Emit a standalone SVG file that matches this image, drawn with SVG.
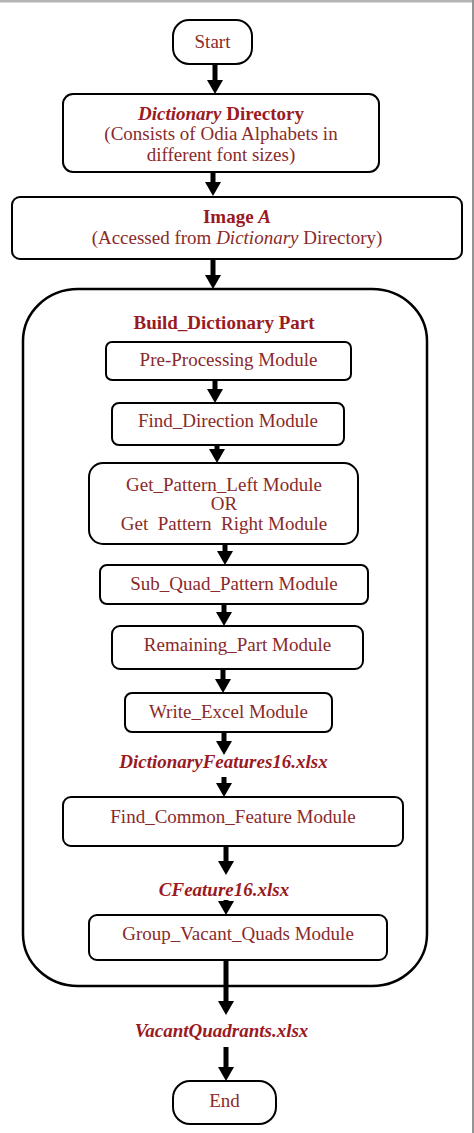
<svg xmlns="http://www.w3.org/2000/svg" width="474" height="1133" viewBox="0 0 474 1133">
<style>
.box{fill:#fff;stroke:#000;stroke-width:2}
.cont{fill:none;stroke:#000;stroke-width:2.5}
.t{font-family:"Liberation Serif","Times New Roman",serif;font-size:19px;fill:#8a2a2a;text-anchor:middle;white-space:pre}
.b{font-weight:bold;fill:#9a1a1f}
.bi{font-weight:bold;font-style:italic;fill:#9a1a1f}
.i{font-style:italic}
.arr{stroke:#000;stroke-width:5;fill:none;marker-end:url(#ah)}
</style>
<defs>
<marker id="ah" markerUnits="userSpaceOnUse" markerWidth="14" markerHeight="16" viewBox="0 0 14 16" refX="1" refY="8" orient="auto">
<path d="M0,0 L14,8 L0,16 z" fill="#000"/>
</marker>
</defs>
<rect x="0" y="0" width="474" height="1133" fill="#fff"/>
<rect x="0" y="0" width="474" height="2.5" fill="#b4b4b4"/>
<rect x="472" y="0" width="2" height="1133" fill="#949494"/>

<g id="container">
<rect class="cont" x="23" y="289" width="404" height="697" rx="55" ry="52"/>
<text class="t b" x="224" y="329">Build_Dictionary Part</text>
</g>

<g id="start">
<rect class="box" x="173" y="20" width="79" height="44" rx="16"/>
<text class="t" x="212.5" y="48">Start</text>
</g>
<g id="dictdir">
<rect class="box" x="63" y="94" width="316" height="78" rx="10"/>
<text class="t" x="221" y="120"><tspan class="bi">Dictionary</tspan><tspan class="b"> Directory</tspan></text>
<text class="t" x="221" y="140">(Consists of Odia Alphabets in</text>
<text class="t" x="221" y="161">different font sizes)</text>
</g>
<g id="imagea">
<rect class="box" x="12" y="197" width="450" height="62" rx="8"/>
<text class="t" x="237" y="223"><tspan class="b">Image </tspan><tspan class="bi">A</tspan></text>
<text class="t" x="237" y="244">(Accessed from <tspan class="i">Dictionary</tspan> Directory)</text>
</g>
<g id="preproc">
<rect class="box" x="106" y="342" width="245" height="38" rx="6"/>
<text class="t" x="228.5" y="366">Pre-Processing Module</text>
</g>
<g id="finddir">
<rect class="box" x="112" y="403" width="232" height="42" rx="7"/>
<text class="t" x="228" y="427">Find_Direction Module</text>
</g>
<g id="getpattern">
<rect class="box" x="89" y="463" width="269" height="81" rx="14"/>
<text class="t" x="224" y="491">Get_Pattern_Left Module</text>
<text class="t" x="224" y="510">OR</text>
<text class="t" x="224" y="530">Get  Pattern  Right Module</text>
</g>
<g id="subquad">
<rect class="box" x="100" y="565" width="268" height="39" rx="7"/>
<text class="t" x="234" y="590">Sub_Quad_Pattern Module</text>
</g>
<g id="remaining">
<rect class="box" x="112" y="626" width="251" height="43" rx="8"/>
<text class="t" x="237.5" y="651">Remaining_Part Module</text>
</g>
<g id="writeexcel">
<rect class="box" x="125" y="693" width="207" height="39" rx="7"/>
<text class="t" x="228.5" y="718">Write_Excel Module</text>
</g>
<g id="dictfeat">
<text class="t bi" x="223.5" y="768">DictionaryFeatures16.xlsx</text>
</g>
<g id="findcommon">
<rect class="box" x="63" y="797" width="340" height="49" rx="8"/>
<text class="t" x="233" y="823">Find_Common_Feature Module</text>
</g>
<g id="cfeature">
<text class="t bi" x="224" y="896">CFeature16.xlsx</text>
</g>
<g id="groupvacant">
<rect class="box" x="89" y="915" width="298" height="45" rx="8"/>
<text class="t" x="238" y="940">Group_Vacant_Quads Module</text>
</g>
<g id="vacantq">
<text class="t bi" x="221.5" y="1037">VacantQuadrants.xlsx</text>
</g>
<g id="end">
<rect class="box" x="173" y="1081" width="103" height="43" rx="17"/>
<text class="t" x="224.5" y="1107">End</text>
</g>

<g id="connectors">
<line class="arr" x1="215" y1="65" x2="215" y2="81"/>
<line class="arr" x1="213" y1="173" x2="213" y2="183"/>
<line class="arr" x1="213" y1="260" x2="213" y2="276"/>
<line class="arr" x1="215" y1="381" x2="215" y2="390"/>
<line class="arr" x1="217" y1="446" x2="217" y2="450"/>
<line class="arr" x1="225" y1="545" x2="225" y2="552"/>
<line class="arr" x1="224" y1="605" x2="224" y2="613"/>
<line class="arr" x1="223" y1="670" x2="223" y2="680"/>
<line class="arr" x1="224" y1="733" x2="224" y2="742"/>
<line class="arr" x1="224" y1="777" x2="224" y2="784"/>
<line class="arr" x1="226" y1="847" x2="226" y2="862"/>
<line class="arr" x1="226" y1="900" x2="226" y2="902"/>
<line class="arr" x1="226" y1="961" x2="226" y2="1002"/>
<line class="arr" x1="226" y1="1047" x2="226" y2="1068"/>
</g>
</svg>
